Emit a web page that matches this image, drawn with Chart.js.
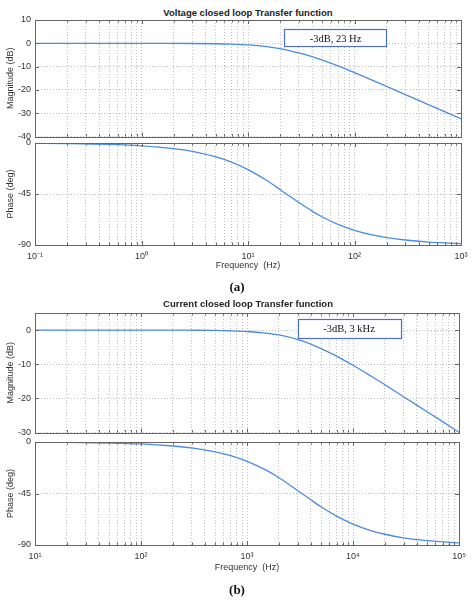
<!DOCTYPE html>
<html>
<head>
<meta charset="utf-8">
<script src="https://cdn.jsdelivr.net/npm/chart.js@4"></script>
<style>
body{margin:0;width:474px;height:600px;background:#fff;position:relative;overflow:hidden;font-family:"Liberation Sans",Arial,sans-serif}
canvas{position:absolute;left:0}
.ttl{position:absolute;left:35px;width:426px;text-align:center;font-weight:bold;font-size:9.5px;color:#222}
.cap{position:absolute;left:0;width:474px;text-align:center;font-family:"Liberation Serif",serif;font-weight:bold;font-size:13px;color:#111}
</style>
</head>
<body>
<div class="ttl" style="top:7px">Voltage closed loop Transfer function</div>
<canvas id="magA" style="top:0" width="474" height="146"></canvas>
<canvas id="phA" style="top:131px" width="474" height="144"></canvas>
<div class="cap" style="top:279px">(a)</div>
<div class="ttl" style="top:298px">Current closed loop Transfer function</div>
<canvas id="magB" style="top:293px" width="474" height="149"></canvas>
<canvas id="phB" style="top:429px" width="474" height="148"></canvas>
<div class="cap" style="top:582px">(b)</div>
<script>
// (a) voltage loop
const freqA = [0.1, 0.2, 0.5, 1, 2, 3, 5, 7, 10, 15, 20, 25, 30, 40, 50, 70, 100, 150, 200, 300, 500, 700, 1000];
const magA = [0, 0, 0, -0.01, -0.03, -0.07, -0.19, -0.36, -0.7, -1.45, -2.3, -3.2, -4.1, -5.7, -7.2, -9.7, -12.6, -16.0, -18.5, -22.0, -26.4, -29.3, -32.3];
const phaseA = [-0.25, -0.5, -1.25, -2.5, -5.0, -7.4, -12.3, -16.9, -23.5, -33.1, -41.0, -47.4, -52.5, -60.1, -65.3, -71.8, -77.0, -81.3, -83.4, -85.6, -87.4, -88.1, -88.7];

// (b) current loop
const freqB = [10, 20, 50, 100, 200, 300, 500, 700, 1000, 1500, 2000, 3000, 4000, 5000, 7000, 10000, 15000, 20000, 30000, 50000, 70000, 100000];
const magB = [0, 0, 0, 0, -0.02, -0.04, -0.1, -0.2, -0.41, -0.89, -1.43, -2.74, -4.1, -5.4, -7.6, -10.3, -13.6, -16.0, -19.5, -23.9, -26.8, -29.9];
const phaseB = [-0.17, -0.35, -0.87, -1.7, -3.5, -5.2, -8.6, -12.0, -16.9, -24.4, -31.2, -42.3, -50.5, -56.6, -64.8, -71.7, -77.6, -80.6, -83.7, -86.2, -87.3, -88.1];

const magTicksA = [10, 0, -10, -20, -30, -40];
const magTicksB = [0, -10, -20, -30];
const phaseTicks = [0, -45, -90];

const lineCol = '#4a8ddc';
const gridCol = 'rgba(140,140,140,0.55)';
const txtCol = '#333';

const sup = {'-':'⁻','0':'⁰','1':'¹','2':'²','3':'³','4':'⁴','5':'⁵'};
function powLabel(v) {
  const e = Math.log10(v);
  if (Math.abs(e - Math.round(e)) > 1e-6) return '';
  return '10' + String(Math.round(e)).split('').map(c => sup[c]).join('');
}
function logTicks(min, max) {
  const out = [];
  for (let e = Math.round(Math.log10(min)); e < Math.round(Math.log10(max)); e++) {
    for (let k = 1; k <= 9; k++) out.push(+(k * Math.pow(10, e)).toPrecision(6));
  }
  out.push(max);
  return out;
}

// matlab style frame with inward ticks
const framePlugin = {
  id: 'frame',
  afterDraw(chart) {
    const {ctx, chartArea: a, scales} = chart;
    ctx.save();
    ctx.strokeStyle = '#666';
    ctx.lineWidth = 1;
    ctx.beginPath();
    scales.x.ticks.forEach(t => {
      const px = Math.round(scales.x.getPixelForValue(t.value)) + 0.5;
      const len = powLabel(t.value) ? 4 : 2.5;
      ctx.moveTo(px, a.bottom); ctx.lineTo(px, a.bottom - len);
      ctx.moveTo(px, a.top); ctx.lineTo(px, a.top + len);
    });
    scales.y.ticks.forEach(t => {
      const py = Math.round(scales.y.getPixelForValue(t.value)) + 0.5;
      ctx.moveTo(a.left, py); ctx.lineTo(a.left + 4, py);
      ctx.moveTo(a.right, py); ctx.lineTo(a.right - 4, py);
    });
    ctx.stroke();
    ctx.strokeRect(Math.round(a.left) + 0.5, Math.round(a.top) + 0.5, Math.round(a.right - a.left), Math.round(a.bottom - a.top));
    ctx.restore();
  }
};

const notePlugin = {
  id: 'note',
  afterDatasetsDraw(chart, args, o) {
    if (!o || !o.text) return;
    const {ctx, scales} = chart;
    const x1 = scales.x.getPixelForValue(o.x0), x2 = scales.x.getPixelForValue(o.x1);
    const y1 = scales.y.getPixelForValue(o.y1), y2 = scales.y.getPixelForValue(o.y0);
    ctx.save();
    ctx.fillStyle = '#fff';
    ctx.fillRect(x1, y1, x2 - x1, y2 - y1);
    ctx.strokeStyle = '#4f6fc0';
    ctx.lineWidth = 1.2;
    ctx.strokeRect(Math.round(x1) + 0.5, Math.round(y1) + 0.5, Math.round(x2 - x1), Math.round(y2 - y1));
    ctx.fillStyle = '#111';
    ctx.font = '10.5px "Liberation Serif", serif';
    ctx.textAlign = 'center';
    ctx.textBaseline = 'middle';
    ctx.fillText(o.text, (x1 + x2) / 2, (y1 + y2) / 2 + 1);
    ctx.restore();
  }
};

function bode(id, freq, vals, o) {
  const font = {family: '"Liberation Sans", Arial, sans-serif', size: 9};
  return new Chart(document.getElementById(id), {
    type: 'line',
    data: {datasets: [{
      data: freq.map((f, i) => ({x: f, y: vals[i]})),
      borderColor: lineCol, borderWidth: 1.3, pointRadius: 0,
      cubicInterpolationMode: 'monotone', fill: false
    }]},
    options: {
      responsive: false, animation: false,
      layout: {padding: o.pad},
      plugins: {legend: {display: false}, tooltip: {enabled: false}, note: o.note || false},
      scales: {
        x: {
          type: 'logarithmic', min: o.xmin, max: o.xmax,
          afterBuildTicks: s => { s.ticks = logTicks(o.xmin, o.xmax).map(v => ({value: v})); },
          afterFit: s => { s.height = o.xh; },
          grid: {color: gridCol, drawTicks: false, lineWidth: 1},
          border: {display: false, dash: [1, 2]},
          ticks: {display: o.xlabels, autoSkip: false, maxRotation: 0, padding: 6, color: txtCol, font,
                  callback: v => powLabel(v)},
          title: {display: o.xlabels, text: 'Frequency  (Hz)', color: txtCol, font, padding: {top: 0, bottom: 4}}
        },
        y: {
          min: o.ymin, max: o.ymax,
          afterBuildTicks: s => { s.ticks = o.yticks.map(v => ({value: v})); },
          afterFit: s => { s.width = 35; },
          grid: {color: gridCol, drawTicks: false},
          border: {display: false, dash: [1, 2]},
          ticks: {padding: 4, color: txtCol, font},
          title: {display: true, text: o.ytitle, color: txtCol, font, padding: {top: 5, bottom: 0}}
        }
      }
    },
    plugins: [framePlugin, notePlugin]
  });
}

bode('magA', freqA, magA, {
  pad: {top: 20, right: 13, bottom: 2, left: 0}, xh: 0, xlabels: false,
  xmin: 0.1, xmax: 1000, ymin: -40, ymax: 10, yticks: magTicksA, ytitle: 'Magnitude (dB)',
  note: {text: '-3dB, 23 Hz', x0: 22, x1: 200, y0: -1.5, y1: 6}
});
bode('phA', freqA, phaseA, {
  pad: {top: 12, right: 13, bottom: 0, left: 0}, xh: 30, xlabels: true,
  xmin: 0.1, xmax: 1000, ymin: -90, ymax: 0, yticks: phaseTicks, ytitle: 'Phase (deg)'
});
bode('magB', freqB, magB, {
  pad: {top: 20, right: 15, bottom: 2, left: 0}, xh: 0, xlabels: false,
  xmin: 10, xmax: 100000, ymin: -30, ymax: 5, yticks: magTicksB, ytitle: 'Magnitude (dB)',
  note: {text: '-3dB, 3 kHz', x0: 3000, x1: 28000, y0: -2.4, y1: 3.2}
});
bode('phB', freqB, phaseB, {
  pad: {top: 13, right: 15, bottom: 0, left: 0}, xh: 32, xlabels: true,
  xmin: 10, xmax: 100000, ymin: -90, ymax: 0, yticks: phaseTicks, ytitle: 'Phase (deg)'
});
</script>
</body>
</html>
